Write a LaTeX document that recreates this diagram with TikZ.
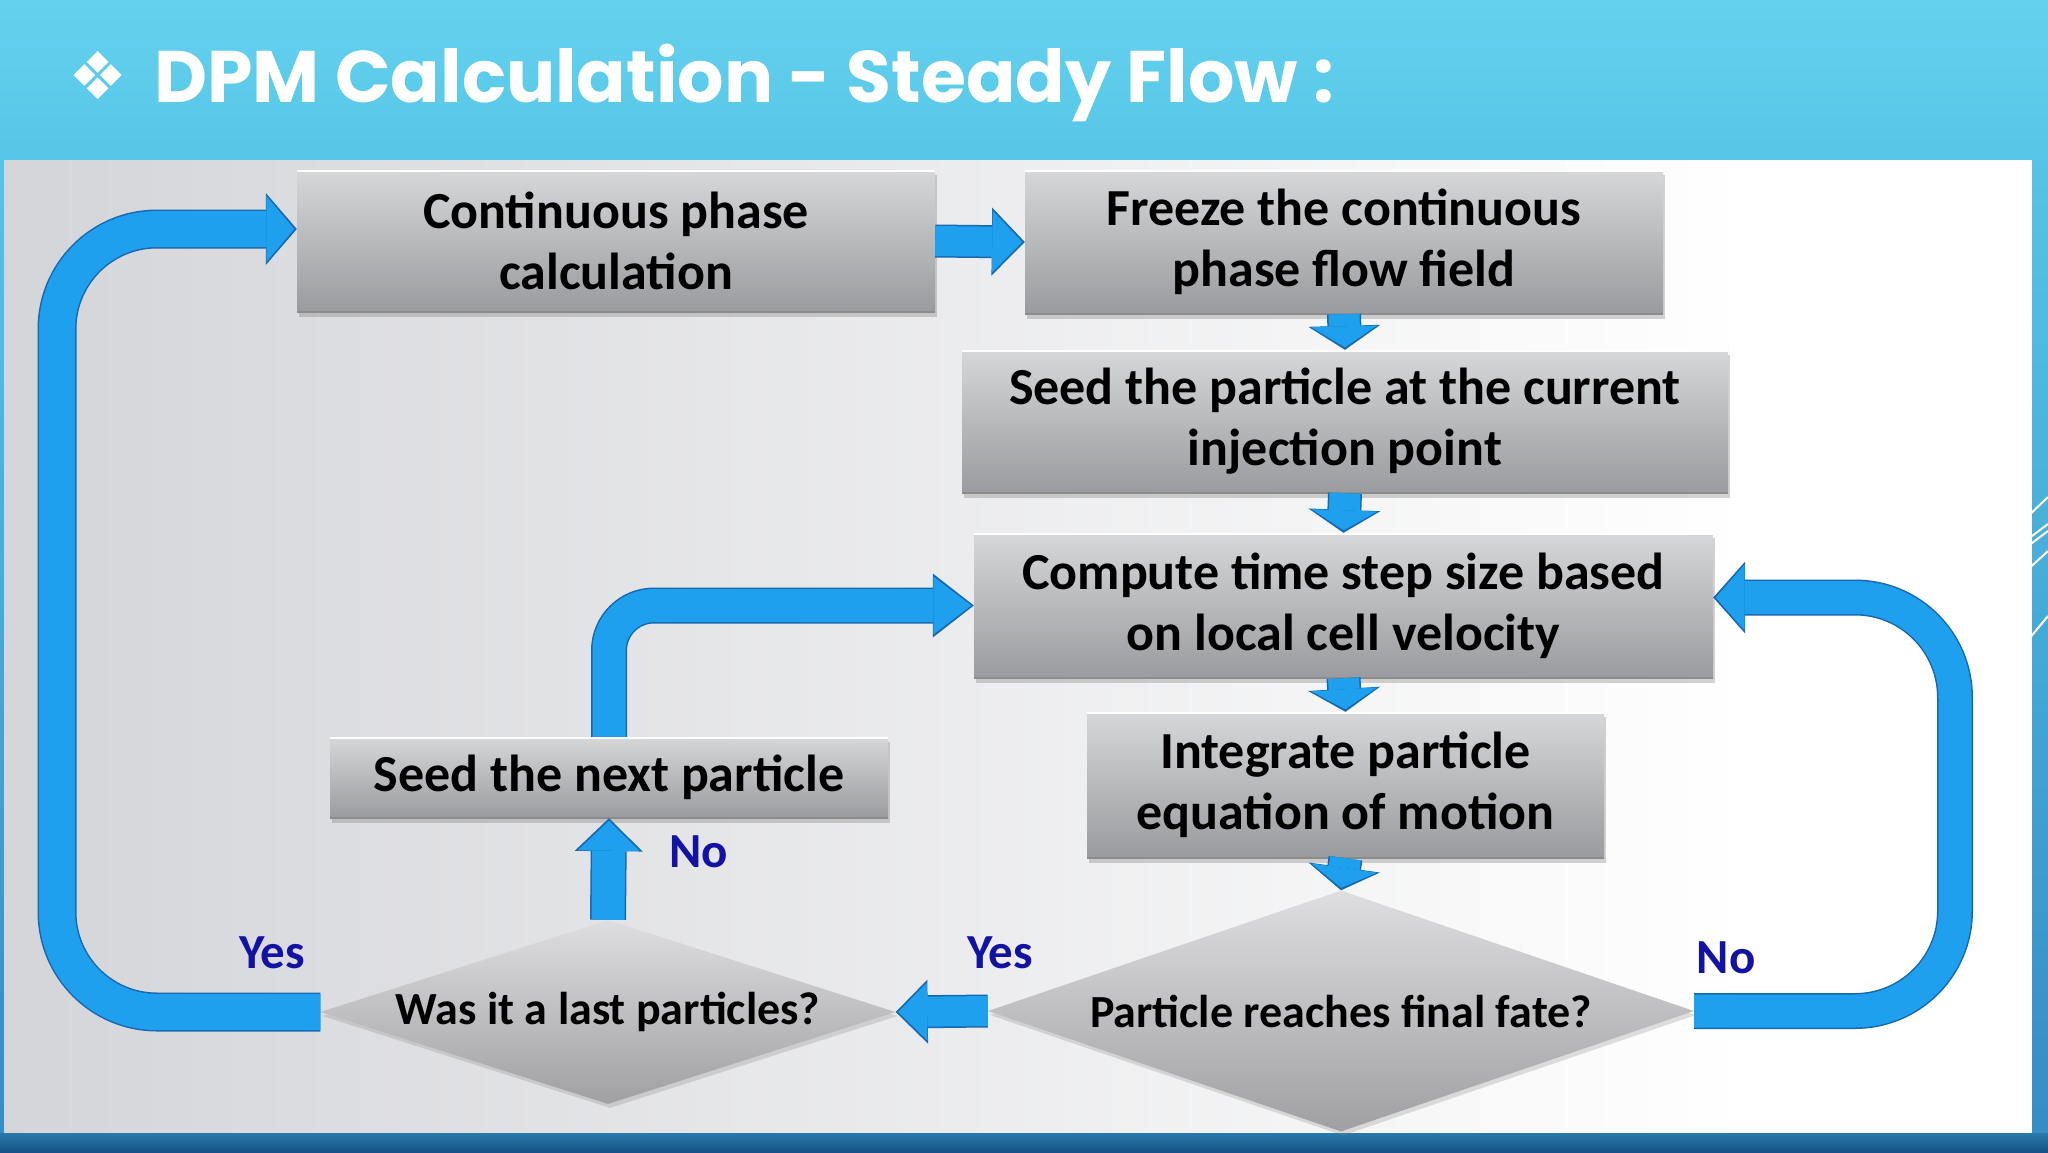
\documentclass[tikz,border=0pt]{standalone}
\usepackage{fontspec}
\setmainfont{Carlito}
\newfontfamily\titlefont{Poppins}
\newfontfamily\symfont{DejaVu Sans}
\usetikzlibrary{arrows.meta,shapes.geometric,shadows,calc}
\definecolor{titlebg}{RGB}{100,210,238}
\definecolor{titlebgB}{RGB}{86,196,230}
\definecolor{stripB}{RGB}{52,140,196}
\definecolor{panelL}{RGB}{212,213,217}
\definecolor{boxT}{RGB}{214,215,217}
\definecolor{boxB}{RGB}{154,155,158}
\definecolor{diaT}{RGB}{222,222,224}
\definecolor{diaB}{RGB}{160,160,163}
\definecolor{pipeC}{RGB}{30,160,238}
\definecolor{pipeD}{RGB}{22,104,176}
\definecolor{lblC}{RGB}{18,18,165}
\definecolor{botT}{RGB}{40,122,172}
\definecolor{botB}{RGB}{22,82,132}
\tikzset{
  boxnode/.style={rectangle, inner sep=0pt, align=center, top color=boxT, bottom color=boxB,
    font=\fontsize{52}{61}\selectfont\bfseries,
    drop shadow={opacity=0.35, shadow xshift=2pt, shadow yshift=-5pt},
    path picture={\draw[white, line width=3pt] (path picture bounding box.north west) -- (path picture bounding box.north east);
                  \draw[black!45, line width=2pt] (path picture bounding box.south west) -- (path picture bounding box.south east);}},
  dianode/.style={diamond, inner sep=0pt, align=center, top color=diaT, bottom color=diaB,
    font=\fontsize{46}{52}\selectfont\bfseries,
    drop shadow={opacity=0.25, shadow xshift=2pt, shadow yshift=-4pt}},
  lblnode/.style={text=lblC, font=\fontsize{49}{52}\selectfont\bfseries, anchor=base, inner sep=0pt},
}
% #1 extra options, #2 shaft width, #3 head width, #4 head length, #5 path
\newcommand\pipearrow[5][]{%
  \pgfmathsetmacro\pwo{#2+3}\pgfmathsetmacro\hwo{#3+6}\pgfmathsetmacro\hlo{#4+3}%
  \draw[pipeD, line width=\pwo pt, -{Triangle[width=\hwo pt,length=\hlo pt,line width=0pt]}, #1] #5;
  \draw[pipeC, line width=#2pt, -{Triangle[width=#3pt,length=#4pt,line width=0pt]}, shorten >=2.5pt, #1] #5;
}
\begin{document}
\begin{tikzpicture}[x=1pt,y=-1pt]
\useasboundingbox (0,0) rectangle (2048,1152);
% background
\fill[top color=titlebg, bottom color=titlebgB] (0,0) rectangle (2048,170);
\fill[top color=titlebgB, bottom color=stripB] (0,160) rectangle (2048,1152);
\fill[white] (4,160) rectangle (2032,1133);
\fill[left color=panelL, right color=white] (4,160) rectangle (1750,1133);
\fill[top color=botT, bottom color=botB] (0,1133) rectangle (2048,1152);
\foreach \ya/\yb in {520/497, 542/524, 549/531, 573/551, 645/616}
  \draw[white, line width=2pt] (2024,\ya) -- (2048,\yb);
% title
\node[text=white, inner sep=0pt] (bullet) at (98,76) {\symfont\fontsize{66}{66}\selectfont ❖};
\node[text=white, anchor=base west, inner sep=0pt] (title) at (154,102)
  {\titlefont\bfseries\fontsize{73}{76}\selectfont DPM Calculation - Steady Flow :};
% nodes
\node[boxnode, minimum width=638pt, minimum height=142pt] (b1) at (616,241) {Continuous phase\\calculation};
\node[boxnode, minimum width=638pt, minimum height=144pt] (b2) at (1344,242) {Freeze the continuous\\phase flow field};
\node[boxnode, minimum width=766pt, minimum height=143pt] (b3) at (1345,421.5) {Seed the particle at the current\\injection point};
\node[boxnode, minimum width=739pt, minimum height=145pt] (b4) at (1343.5,605.5) {Compute time step size based\\on local cell velocity};
\node[boxnode, minimum width=517pt, minimum height=146pt] (b5) at (1345.5,785) {Integrate particle\\equation of motion};
\node[boxnode, minimum width=558pt, minimum height=81pt] (seed) at (609,777.5) {Seed the next particle};
\node[dianode, aspect=2.93, minimum width=706pt, minimum height=241pt] (d1) at (1341,1011) {Particle reaches final fate?};
\node[dianode, aspect=3.125, minimum width=575pt, minimum height=184pt] (d2) at (608,1012) {Was it a last particles?};
% helper coordinates
\coordinate (LL) at (57,0);
\coordinate (RR) at (1955,0);
\coordinate (b1in) at ([yshift=12pt]b1.west);
\coordinate (b4in) at ([yshift=8pt]b4.east);
% connectors
\pipearrow{30}{62}{30}{(b1.east) -- (b2.west)}
\pipearrow{31}{66}{21}{(b2.south) -- (b3.north)}
\pipearrow{31}{66}{20}{(b3.south) -- (b4.north)}
\pipearrow{31}{66}{20}{(b4.south) -- (b5.north)}
\pipearrow{31}{66}{20}{(b5.south) -- (d1.north)}
\pipearrow{30}{58}{29}{(d1.west) -- (d2.east)}
\pipearrow{33}{62}{30}{(d2.north) -- (seed.south)}
\pipearrow[rounded corners=45pt]{33}{58}{38}{(seed.north) |- (b4.west)}
\pipearrow[rounded corners=100pt]{33}{66}{29}{(d1.east) -- (d1.east -| RR) -- (RR |- b4in) -- (b4in)}
\pipearrow[rounded corners=100pt]{36}{66}{28}{(d2.west) -- (d2.west -| LL) -- (LL |- b1in) -- (b1in)}
% labels
\node[lblnode] (yes1) at (272,968) {Yes};
\node[lblnode] (no1) at (699,867) {No};
\node[lblnode] (yes2) at (1000,968) {Yes};
\node[lblnode] (no2) at (1726,973) {No};
\end{tikzpicture}
\end{document}
